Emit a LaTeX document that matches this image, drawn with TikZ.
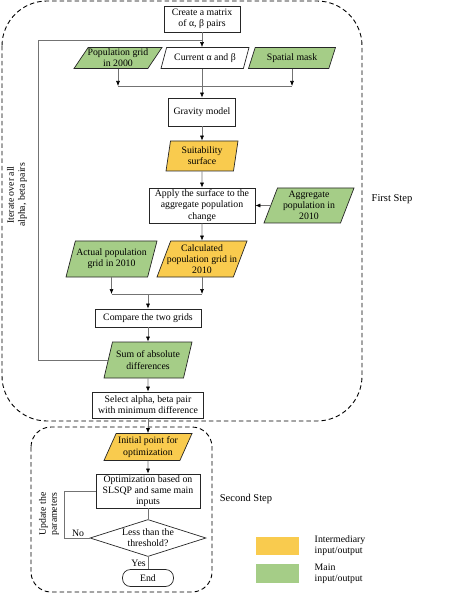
\documentclass[tikz,border=0pt]{standalone}
\usepackage{fontspec}
\setmainfont{Liberation Serif}
\usetikzlibrary{shapes.geometric,arrows.meta,positioning,calc}
\definecolor{mainio}{RGB}{165,205,135}
\definecolor{midio}{RGB}{249,203,78}

\tikzset{
  every node/.style={font=\fontsize{9.8}{11.2}\selectfont},
  proc/.style={draw=black!85, line width=0.7pt, fill=white, align=center, inner sep=1pt},
  io/.style={trapezium, trapezium left angle=65, trapezium right angle=115, trapezium stretches body,
    draw=black!85, line width=0.7pt, align=center, inner xsep=-4pt, inner ysep=0pt},
  flow/.style={draw=black!55, line width=0.6pt},
  tip/.style={flow, -{Latex[length=5pt,width=4pt,color=black]}},
  stepbox/.style={draw, dash pattern=on 4.5pt off 3pt, line width=0.9pt},
  steplabel/.style={font=\fontsize{10.5}{12}\selectfont},
}

\begin{document}
\begin{tikzpicture}[x=1pt, y=-1pt]
\useasboundingbox (0,0) rectangle (474,593);

% dashed step frames
\draw[stepbox, rounded corners=45pt] (2,1) rectangle (362,421);
\draw[stepbox, rounded corners=20pt] (31,427) rectangle (212,592);

% first step
\node[proc, minimum width=76pt, minimum height=26pt] (matrix) at (202,19) {Create a matrix\\of α, β pairs};
\node[io, fill=mainio, minimum width=88pt, minimum height=21pt, trapezium left angle=52, trapezium right angle=128] (popgrid) at (118,58) {Population grid\\in 2000};
\node[io, fill=white, minimum width=88pt, minimum height=21pt, trapezium left angle=58, trapezium right angle=122] (current) at (205,58) {Current α and β};
\node[io, fill=mainio, minimum width=87pt, minimum height=21pt, trapezium left angle=53, trapezium right angle=127] (mask) at (292,58) {Spatial mask};
\node[proc, minimum width=67pt, minimum height=28pt] (gravity) at (202,112) {Gravity model};
\node[io, fill=midio, minimum width=72pt, minimum height=30pt, trapezium left angle=76, trapezium right angle=104] (suit) at (202,156) {Suitability\\surface};
\node[proc, minimum width=106pt, minimum height=35pt] (apply) at (202,205.5) {Apply the surface to the\\aggregate population\\change};
\node[io, fill=mainio, minimum width=90pt, minimum height=35pt] (aggr) at (309,205.5) {Aggregate\\population in\\2010};
\node[io, fill=mainio, minimum width=91pt, minimum height=36pt] (actual) at (111.5,259) {Actual population\\grid in 2010};
\node[io, fill=midio, minimum width=90pt, minimum height=36pt] (calc) at (202,259) {Calculated\\population grid in\\2010};
\node[proc, minimum width=106pt, minimum height=18pt] (compare) at (148,318) {Compare the two grids};
\node[io, fill=mainio, minimum width=88pt, minimum height=36pt] (sum) at (148,360) {Sum of absolute\\differences};
\node[proc, minimum width=111pt, minimum height=26pt] (select) at (148,405) {Select alpha, beta pair\\with minimum difference};

% second step
\node[io, fill=midio, minimum width=88pt, minimum height=27pt, trapezium left angle=59, trapezium right angle=121] (init) at (148,447) {Initial point for\\optimization};
\node[proc, minimum width=104pt, minimum height=34pt] (optim) at (148,491) {Optimization based on\\SLSQP and same main\\inputs};
\node[diamond, draw=black!85, line width=0.7pt, fill=white, aspect=3.2, inner sep=0pt, align=center, minimum width=116pt, minimum height=37pt] (thresh) at (148,538) {Less than the\\threshold?};
\node[proc, rounded corners=8pt, minimum width=51pt, minimum height=17pt] (end) at (148,578) {End};

% side texts
\node[rotate=90, align=center] (iterate) at (17,195) {Iterate over all\\alpha, beta pairs};
\node[rotate=90, align=center] (update) at (49,514) {Update the\\parameters};
\node[steplabel] (first) at (392,199) {First Step};
\node[steplabel] (second) at (246,499) {Second Step};

% legend
\node[fill=midio, minimum width=43pt, minimum height=18pt] (keyMid) at (277.5,546) {};
\node[fill=mainio, minimum width=43pt, minimum height=19pt] (keyMain) at (277.5,573.5) {};
\node[right=12pt of keyMid, align=left] (keyMidText) {Intermediary\\input/output};
\node[right=12pt of keyMain, align=left] (keyMainText) {Main\\input/output};

% connectors
\coordinate (loopTop) at (38,40);
\coordinate (joinTop) at (202,86);
\coordinate (joinMid) at (148,294);
\coordinate (updLeft) at (64,538);

\draw[tip] (matrix.south) -- (matrix.south |- current.north);
\draw[flow] (sum.west) -| (loopTop) -- (loopTop -| matrix.south);
\draw[tip] (popgrid.south) -- (popgrid.south |- joinTop);
\draw[tip] (mask.south) -- (mask.south |- joinTop);
\draw[flow] (popgrid.south |- joinTop) -- (mask.south |- joinTop);
\draw[tip] (gravity.north |- current.south) -- (gravity.north);
\draw[tip] (gravity) -- (suit);
\draw[tip] (suit) -- (apply);
\draw[tip] (aggr) -- (apply);
\draw[tip] (apply) -- (calc);
\draw[tip] (actual.south) -- (actual.south |- joinMid);
\draw[tip] (calc.south) -- (calc.south |- joinMid);
\draw[flow] (actual.south |- joinMid) -- (calc.south |- joinMid);
\draw[tip] (joinMid) -- (compare);
\draw[tip] (compare) -- (sum);
\draw[tip] (sum) -- (select);
\draw[tip] (select) -- (init);
\draw[tip] (init) -- (optim);
\draw[flow] (optim) -- (thresh);
\draw[flow] (thresh) -- (end) node[midway, left, inner sep=2pt] {Yes};
\draw[flow] (thresh.west) -- (updLeft) node[pos=0.45, above, inner sep=1pt] {No} |- (optim.west);
\end{tikzpicture}
\end{document}
